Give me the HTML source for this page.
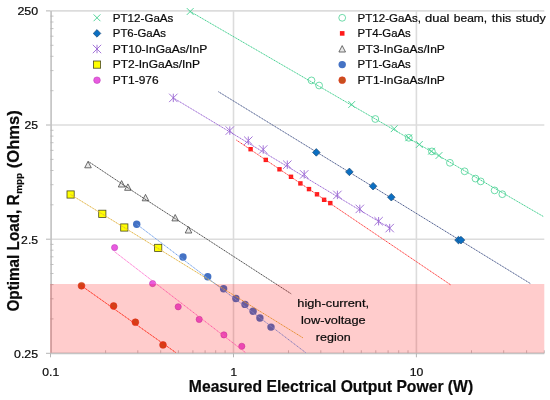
<!DOCTYPE html><html><head><meta charset="utf-8"><title>chart</title>
<style>html,body{margin:0;padding:0;background:#fff;}svg{display:block;}text{font-family:"Liberation Sans",sans-serif;fill:#0a0a0a;stroke:#0a0a0a;stroke-width:0.22px;}</style></head><body>
<svg width="550" height="400" viewBox="0 0 550 400">
<rect width="550" height="400" fill="#fff"/>
<line x1="50.5" x2="544.3" y1="10.9" y2="10.9" stroke="#dcdcdc" stroke-width="1.6"/>
<line x1="50.5" x2="544.3" y1="125.0" y2="125.0" stroke="#dcdcdc" stroke-width="1.6"/>
<line x1="50.5" x2="544.3" y1="239.2" y2="239.2" stroke="#dcdcdc" stroke-width="1.6"/>
<line x1="233.5" x2="233.5" y1="10.9" y2="353.3" stroke="#dcdcdc" stroke-width="1.6"/>
<line x1="416.4" x2="416.4" y1="10.9" y2="353.3" stroke="#dcdcdc" stroke-width="1.6"/>
<line x1="51.1" x2="51.1" y1="10.9" y2="354.1" stroke="#c4c4c4" stroke-width="1.7"/>
<line x1="50.5" x2="544.3" y1="353.3" y2="353.3" stroke="#c4c4c4" stroke-width="1.7"/>
<line x1="46.0" x2="50.5" y1="10.9" y2="10.9" stroke="#b4b4b4"/>
<line x1="50.5" x2="53.5" y1="90.7" y2="90.7" stroke="#b4b4b4" stroke-width="0.8"/>
<line x1="50.5" x2="53.5" y1="70.6" y2="70.6" stroke="#b4b4b4" stroke-width="0.8"/>
<line x1="50.5" x2="53.5" y1="56.3" y2="56.3" stroke="#b4b4b4" stroke-width="0.8"/>
<line x1="50.5" x2="53.5" y1="45.3" y2="45.3" stroke="#b4b4b4" stroke-width="0.8"/>
<line x1="50.5" x2="53.5" y1="36.2" y2="36.2" stroke="#b4b4b4" stroke-width="0.8"/>
<line x1="50.5" x2="53.5" y1="28.6" y2="28.6" stroke="#b4b4b4" stroke-width="0.8"/>
<line x1="50.5" x2="53.5" y1="22.0" y2="22.0" stroke="#b4b4b4" stroke-width="0.8"/>
<line x1="50.5" x2="53.5" y1="16.1" y2="16.1" stroke="#b4b4b4" stroke-width="0.8"/>
<line x1="46.0" x2="50.5" y1="125.0" y2="125.0" stroke="#b4b4b4"/>
<line x1="50.5" x2="53.5" y1="204.8" y2="204.8" stroke="#b4b4b4" stroke-width="0.8"/>
<line x1="50.5" x2="53.5" y1="184.7" y2="184.7" stroke="#b4b4b4" stroke-width="0.8"/>
<line x1="50.5" x2="53.5" y1="170.5" y2="170.5" stroke="#b4b4b4" stroke-width="0.8"/>
<line x1="50.5" x2="53.5" y1="159.4" y2="159.4" stroke="#b4b4b4" stroke-width="0.8"/>
<line x1="50.5" x2="53.5" y1="150.4" y2="150.4" stroke="#b4b4b4" stroke-width="0.8"/>
<line x1="50.5" x2="53.5" y1="142.7" y2="142.7" stroke="#b4b4b4" stroke-width="0.8"/>
<line x1="50.5" x2="53.5" y1="136.1" y2="136.1" stroke="#b4b4b4" stroke-width="0.8"/>
<line x1="50.5" x2="53.5" y1="130.3" y2="130.3" stroke="#b4b4b4" stroke-width="0.8"/>
<line x1="46.0" x2="50.5" y1="239.2" y2="239.2" stroke="#b4b4b4"/>
<line x1="50.5" x2="53.5" y1="318.9" y2="318.9" stroke="#b4b4b4" stroke-width="0.8"/>
<line x1="50.5" x2="53.5" y1="298.8" y2="298.8" stroke="#b4b4b4" stroke-width="0.8"/>
<line x1="50.5" x2="53.5" y1="284.6" y2="284.6" stroke="#b4b4b4" stroke-width="0.8"/>
<line x1="50.5" x2="53.5" y1="273.5" y2="273.5" stroke="#b4b4b4" stroke-width="0.8"/>
<line x1="50.5" x2="53.5" y1="264.5" y2="264.5" stroke="#b4b4b4" stroke-width="0.8"/>
<line x1="50.5" x2="53.5" y1="256.8" y2="256.8" stroke="#b4b4b4" stroke-width="0.8"/>
<line x1="50.5" x2="53.5" y1="250.2" y2="250.2" stroke="#b4b4b4" stroke-width="0.8"/>
<line x1="50.5" x2="53.5" y1="244.4" y2="244.4" stroke="#b4b4b4" stroke-width="0.8"/>
<line x1="46.0" x2="50.5" y1="353.3" y2="353.3" stroke="#b4b4b4"/>
<line x1="50.5" x2="50.5" y1="353.3" y2="357.3" stroke="#b4b4b4"/>
<line x1="105.6" x2="105.6" y1="350.3" y2="353.3" stroke="#b4b4b4" stroke-width="0.8"/>
<line x1="137.8" x2="137.8" y1="350.3" y2="353.3" stroke="#b4b4b4" stroke-width="0.8"/>
<line x1="160.7" x2="160.7" y1="350.3" y2="353.3" stroke="#b4b4b4" stroke-width="0.8"/>
<line x1="178.4" x2="178.4" y1="350.3" y2="353.3" stroke="#b4b4b4" stroke-width="0.8"/>
<line x1="192.9" x2="192.9" y1="350.3" y2="353.3" stroke="#b4b4b4" stroke-width="0.8"/>
<line x1="205.1" x2="205.1" y1="350.3" y2="353.3" stroke="#b4b4b4" stroke-width="0.8"/>
<line x1="215.7" x2="215.7" y1="350.3" y2="353.3" stroke="#b4b4b4" stroke-width="0.8"/>
<line x1="225.1" x2="225.1" y1="350.3" y2="353.3" stroke="#b4b4b4" stroke-width="0.8"/>
<line x1="233.5" x2="233.5" y1="353.3" y2="357.3" stroke="#b4b4b4"/>
<line x1="288.5" x2="288.5" y1="350.3" y2="353.3" stroke="#b4b4b4" stroke-width="0.8"/>
<line x1="320.8" x2="320.8" y1="350.3" y2="353.3" stroke="#b4b4b4" stroke-width="0.8"/>
<line x1="343.6" x2="343.6" y1="350.3" y2="353.3" stroke="#b4b4b4" stroke-width="0.8"/>
<line x1="361.3" x2="361.3" y1="350.3" y2="353.3" stroke="#b4b4b4" stroke-width="0.8"/>
<line x1="375.8" x2="375.8" y1="350.3" y2="353.3" stroke="#b4b4b4" stroke-width="0.8"/>
<line x1="388.1" x2="388.1" y1="350.3" y2="353.3" stroke="#b4b4b4" stroke-width="0.8"/>
<line x1="398.7" x2="398.7" y1="350.3" y2="353.3" stroke="#b4b4b4" stroke-width="0.8"/>
<line x1="408.0" x2="408.0" y1="350.3" y2="353.3" stroke="#b4b4b4" stroke-width="0.8"/>
<line x1="416.4" x2="416.4" y1="353.3" y2="357.3" stroke="#b4b4b4"/>
<line x1="471.5" x2="471.5" y1="350.3" y2="353.3" stroke="#b4b4b4" stroke-width="0.8"/>
<line x1="503.7" x2="503.7" y1="350.3" y2="353.3" stroke="#b4b4b4" stroke-width="0.8"/>
<line x1="526.6" x2="526.6" y1="350.3" y2="353.3" stroke="#b4b4b4" stroke-width="0.8"/>
<line x1="544.3" x2="544.3" y1="350.3" y2="353.3" stroke="#b4b4b4" stroke-width="0.8"/>
<line x1="218.4" y1="91.7" x2="530.5" y2="283.6" stroke="#4a5a8c" stroke-width="1" stroke-dasharray="1.3 0.6" opacity="1"/>
<path d="M186.8 8.1L193.6 14.9M186.8 14.9L193.6 8.1" stroke="#3fcf8e" stroke-width="0.9" fill="none"/>
<path d="M348.3 101.1L355.1 107.9M348.3 107.9L355.1 101.1" stroke="#3fcf8e" stroke-width="0.9" fill="none"/>
<path d="M390.8 125.3L397.6 132.1M390.8 132.1L397.6 125.3" stroke="#3fcf8e" stroke-width="0.9" fill="none"/>
<path d="M405.3 134.4L412.1 141.2M405.3 141.2L412.1 134.4" stroke="#3fcf8e" stroke-width="0.9" fill="none"/>
<path d="M415.9 141.1L422.7 147.9M415.9 147.9L422.7 141.1" stroke="#3fcf8e" stroke-width="0.9" fill="none"/>
<path d="M428.1 147.8L434.9 154.6M428.1 154.6L434.9 147.8" stroke="#3fcf8e" stroke-width="0.9" fill="none"/>
<path d="M435.6 152.1L442.4 158.9M435.6 158.9L442.4 152.1" stroke="#3fcf8e" stroke-width="0.9" fill="none"/>
<circle cx="311.5" cy="80.4" r="3.4" stroke="#3fcf8e" stroke-width="0.75" fill="none"/>
<circle cx="319.1" cy="85.5" r="3.4" stroke="#3fcf8e" stroke-width="0.75" fill="none"/>
<circle cx="375.3" cy="119" r="3.4" stroke="#3fcf8e" stroke-width="0.75" fill="none"/>
<circle cx="408.8" cy="137.8" r="3.4" stroke="#3fcf8e" stroke-width="0.75" fill="none"/>
<circle cx="431.9" cy="151.4" r="3.4" stroke="#3fcf8e" stroke-width="0.75" fill="none"/>
<circle cx="449.9" cy="162.8" r="3.4" stroke="#3fcf8e" stroke-width="0.75" fill="none"/>
<circle cx="464.6" cy="171.3" r="3.4" stroke="#3fcf8e" stroke-width="0.75" fill="none"/>
<circle cx="475.5" cy="178.6" r="3.4" stroke="#3fcf8e" stroke-width="0.75" fill="none"/>
<circle cx="480.7" cy="181.4" r="3.4" stroke="#3fcf8e" stroke-width="0.75" fill="none"/>
<circle cx="494.6" cy="190.4" r="3.4" stroke="#3fcf8e" stroke-width="0.75" fill="none"/>
<circle cx="502.3" cy="194.2" r="3.4" stroke="#3fcf8e" stroke-width="0.75" fill="none"/>
<path d="M316.3 148.6L320.1 152.4L316.3 156.20000000000002L312.5 152.4Z" fill="#0b6fc2" stroke="#1f4e79" stroke-width="0.7"/>
<path d="M349.4 168.1L353.2 171.9L349.4 175.70000000000002L345.59999999999997 171.9Z" fill="#0b6fc2" stroke="#1f4e79" stroke-width="0.7"/>
<path d="M373.1 182.39999999999998L376.90000000000003 186.2L373.1 190.0L369.3 186.2Z" fill="#0b6fc2" stroke="#1f4e79" stroke-width="0.7"/>
<path d="M391.3 193.39999999999998L395.1 197.2L391.3 201.0L387.5 197.2Z" fill="#0b6fc2" stroke="#1f4e79" stroke-width="0.7"/>
<path d="M458.5 236.29999999999998L462.3 240.1L458.5 243.9L454.7 240.1Z" fill="#0b6fc2" stroke="#1f4e79" stroke-width="0.7"/>
<path d="M461 236.29999999999998L464.8 240.1L461 243.9L457.2 240.1Z" fill="#0b6fc2" stroke="#1f4e79" stroke-width="0.7"/>
<path d="M169.1 93.7L177.5 102.1M169.1 102.1L177.5 93.7M173.3 93.7L173.3 102.1" stroke="#9a66d4" stroke-width="0.9" fill="none"/>
<path d="M225.6 126.4L234.0 134.8M225.6 134.8L234.0 126.4M229.8 126.4L229.8 134.8" stroke="#9a66d4" stroke-width="0.9" fill="none"/>
<path d="M244.1 136.5L252.5 144.9M244.1 144.9L252.5 136.5M248.3 136.5L248.3 144.9" stroke="#9a66d4" stroke-width="0.9" fill="none"/>
<path d="M259.0 145.3L267.4 153.7M259.0 153.7L267.4 145.3M263.2 145.3L263.2 153.7" stroke="#9a66d4" stroke-width="0.9" fill="none"/>
<path d="M283.1 160.5L291.5 168.9M283.1 168.9L291.5 160.5M287.3 160.5L287.3 168.9" stroke="#9a66d4" stroke-width="0.9" fill="none"/>
<path d="M300.0 170.2L308.4 178.6M300.0 178.6L308.4 170.2M304.2 170.2L304.2 178.6" stroke="#9a66d4" stroke-width="0.9" fill="none"/>
<path d="M333.2 190.7L341.6 199.1M333.2 199.1L341.6 190.7M337.4 190.7L337.4 199.1" stroke="#9a66d4" stroke-width="0.9" fill="none"/>
<path d="M355.6 204.7L364.0 213.1M355.6 213.1L364.0 204.7M359.8 204.7L359.8 213.1" stroke="#9a66d4" stroke-width="0.9" fill="none"/>
<path d="M374.4 217.0L382.8 225.4M374.4 225.4L382.8 217.0M378.6 217.0L378.6 225.4" stroke="#9a66d4" stroke-width="0.9" fill="none"/>
<path d="M385.5 223.9L393.9 232.3M385.5 232.3L393.9 223.9M389.7 223.9L389.7 232.3" stroke="#9a66d4" stroke-width="0.9" fill="none"/>
<rect x="248.4" y="147.0" width="4.4" height="4.4" fill="#ff1a1a"/>
<rect x="263.6" y="157.7" width="4.4" height="4.4" fill="#ff1a1a"/>
<rect x="277.3" y="167.1" width="4.4" height="4.4" fill="#ff1a1a"/>
<rect x="288.8" y="174.6" width="4.4" height="4.4" fill="#ff1a1a"/>
<rect x="298.2" y="181.2" width="4.4" height="4.4" fill="#ff1a1a"/>
<rect x="306.8" y="186.9" width="4.4" height="4.4" fill="#ff1a1a"/>
<rect x="314.8" y="192.1" width="4.4" height="4.4" fill="#ff1a1a"/>
<rect x="321.9" y="197.6" width="4.4" height="4.4" fill="#ff1a1a"/>
<rect x="328.1" y="200.9" width="4.4" height="4.4" fill="#ff1a1a"/>
<path d="M88 161.4L91.3 167.8L84.7 167.8Z" fill="#e8e8e8" stroke="#4a4a4a" stroke-width="0.8"/>
<path d="M121.6 180.6L124.9 187.0L118.3 187.0Z" fill="#e8e8e8" stroke="#4a4a4a" stroke-width="0.8"/>
<path d="M127.9 183.9L131.2 190.3L124.6 190.3Z" fill="#e8e8e8" stroke="#4a4a4a" stroke-width="0.8"/>
<path d="M145.5 194.4L148.8 200.8L142.2 200.8Z" fill="#e8e8e8" stroke="#4a4a4a" stroke-width="0.8"/>
<path d="M175.2 214.5L178.5 220.9L171.9 220.9Z" fill="#e8e8e8" stroke="#4a4a4a" stroke-width="0.8"/>
<path d="M188.5 226.6L191.8 233.0L185.2 233.0Z" fill="#e8e8e8" stroke="#4a4a4a" stroke-width="0.8"/>
<rect x="67.0" y="190.9" width="7.2" height="7.2" fill="#ffff00" stroke="#4a4a20" stroke-width="0.8"/>
<rect x="98.7" y="210.2" width="7.2" height="7.2" fill="#ffff00" stroke="#4a4a20" stroke-width="0.8"/>
<rect x="120.7" y="223.9" width="7.2" height="7.2" fill="#ffff00" stroke="#4a4a20" stroke-width="0.8"/>
<rect x="154.6" y="244.3" width="7.2" height="7.2" fill="#ffff00" stroke="#4a4a20" stroke-width="0.8"/>
<circle cx="136.7" cy="224.2" r="3.7" fill="#4472c4"/>
<circle cx="183" cy="257" r="3.7" fill="#4472c4"/>
<circle cx="207.7" cy="276.8" r="3.7" fill="#4472c4"/>
<circle cx="223.6" cy="288.8" r="3.7" fill="#4472c4"/>
<circle cx="235.9" cy="298.5" r="3.7" fill="#4472c4"/>
<circle cx="245" cy="304.4" r="3.7" fill="#4472c4"/>
<circle cx="253.1" cy="311.2" r="3.7" fill="#4472c4"/>
<circle cx="259.9" cy="318" r="3.7" fill="#4472c4"/>
<circle cx="271" cy="327.1" r="3.7" fill="#4472c4"/>
<circle cx="114.6" cy="247.6" r="3.1" fill="#e85be0" stroke="#c040b8" stroke-width="0.6"/>
<circle cx="152.6" cy="283.59999999999997" r="3.1" fill="#e85be0" stroke="#c040b8" stroke-width="0.6"/>
<circle cx="178.2" cy="306.79999999999995" r="3.1" fill="#e85be0" stroke="#c040b8" stroke-width="0.6"/>
<circle cx="199.2" cy="319.4" r="3.1" fill="#e85be0" stroke="#c040b8" stroke-width="0.6"/>
<circle cx="223.9" cy="334.9" r="3.1" fill="#e85be0" stroke="#c040b8" stroke-width="0.6"/>
<circle cx="241.8" cy="346.29999999999995" r="3.1" fill="#e85be0" stroke="#c040b8" stroke-width="0.6"/>
<circle cx="81.5" cy="285.8" r="3.4" fill="#c8501e" stroke="#e0381c" stroke-width="0.6"/>
<circle cx="113.6" cy="306" r="3.4" fill="#c8501e" stroke="#e0381c" stroke-width="0.6"/>
<circle cx="135.4" cy="322.2" r="3.4" fill="#c8501e" stroke="#e0381c" stroke-width="0.6"/>
<circle cx="163" cy="344.9" r="3.4" fill="#c8501e" stroke="#e0381c" stroke-width="0.6"/>
<line x1="190.2" y1="11.5" x2="543.7" y2="216.7" stroke="#3fcf8e" stroke-width="1" stroke-dasharray="1.3 0.6" opacity="1"/>
<line x1="173.3" y1="97.9" x2="389.7" y2="228.1" stroke="#9a66d4" stroke-width="1" stroke-dasharray="1.3 0.6" opacity="1"/>
<line x1="236.3" y1="140" x2="450.9" y2="285" stroke="#ff3b3b" stroke-width="1" stroke-dasharray="1.3 0.6" opacity="1"/>
<polyline points="88.4,161.6 91.9,163.8 135,192.6 180,221.7 291.3,293.9" fill="none" stroke="#4d4d4d" stroke-width="1" stroke-dasharray="1.4 0.6"/>
<line x1="70.6" y1="194.5" x2="302.9" y2="337.8" stroke="#e2b23c" stroke-width="1" stroke-dasharray="1.3 0.6" opacity="1"/>
<line x1="136.7" y1="224.2" x2="305.8" y2="352.7" stroke="#6d9eeb" stroke-width="1" stroke-dasharray="1.3 0.6" opacity="1"/>
<line x1="114.7" y1="251.8" x2="245.8" y2="352.8" stroke="#ff70d0" stroke-width="1" stroke-dasharray="1.3 0.6" opacity="1"/>
<line x1="81.5" y1="285.8" x2="176" y2="352.7" stroke="#ff2a12" stroke-width="1" stroke-dasharray="1.3 0.6" opacity="1"/>
<rect x="50.0" y="284" width="494.29999999999995" height="68.80000000000001" fill="rgb(255,0,0)" fill-opacity="0.2"/>
<text x="297.3" y="307.3" font-size="11.8" text-anchor="start" textLength="71.8" lengthAdjust="spacingAndGlyphs">high-current,</text>
<text x="301.0" y="324.3" font-size="11.8" text-anchor="start" textLength="64.6" lengthAdjust="spacingAndGlyphs">low-voltage</text>
<text x="315.8" y="341.1" font-size="11.8" text-anchor="start" textLength="34.8" lengthAdjust="spacingAndGlyphs">region</text>
<text x="17.400000000000002" y="15.3" font-size="11.8" text-anchor="start" textLength="20.7" lengthAdjust="spacingAndGlyphs">250</text>
<text x="24.5" y="129.4" font-size="11.8" text-anchor="start" textLength="13.6" lengthAdjust="spacingAndGlyphs">25</text>
<text x="21.1" y="243.6" font-size="11.8" text-anchor="start" textLength="17.0" lengthAdjust="spacingAndGlyphs">2.5</text>
<text x="14.100000000000001" y="357.7" font-size="11.8" text-anchor="start" textLength="24.0" lengthAdjust="spacingAndGlyphs">0.25</text>
<text x="50.7" y="376.0" font-size="11.8" text-anchor="middle" textLength="16.9" lengthAdjust="spacingAndGlyphs">0.1</text>
<text x="233.7" y="376.0" font-size="11.8" text-anchor="middle">1</text>
<text x="416.6" y="376.0" font-size="11.8" text-anchor="middle" textLength="13.6" lengthAdjust="spacingAndGlyphs">10</text>
<text x="331" y="392" font-size="16.7" font-weight="bold" text-anchor="middle" textLength="284.3" lengthAdjust="spacingAndGlyphs">Measured Electrical Output Power (W)</text>
<text transform="translate(18.5,311.6) rotate(-90)" font-size="16.6" font-weight="bold" textLength="117.2" lengthAdjust="spacingAndGlyphs">Optimal Load, R</text>
<text transform="translate(21.6,193.8) rotate(-90)" font-size="9.8" font-weight="bold" textLength="20.8" lengthAdjust="spacingAndGlyphs">mpp</text>
<text transform="translate(18.5,168.2) rotate(-90)" font-size="16.6" font-weight="bold" textLength="58" lengthAdjust="spacingAndGlyphs">(Ohms)</text>
<path d="M93.6 14.4L100.4 21.2M93.6 21.2L100.4 14.4" stroke="#3fcf8e" stroke-width="0.9" fill="none"/>
<text x="112.8" y="21.6" font-size="11.8" text-anchor="start" textLength="60.6" lengthAdjust="spacingAndGlyphs">PT12-GaAs</text>
<path d="M97 29.599999999999998L100.8 33.4L97 37.199999999999996L93.2 33.4Z" fill="#0b6fc2" stroke="#1f4e79" stroke-width="0.7"/>
<text x="112.8" y="37.2" font-size="11.8" text-anchor="start" textLength="53.2" lengthAdjust="spacingAndGlyphs">PT6-GaAs</text>
<path d="M92.8 44.8L101.2 53.2M92.8 53.2L101.2 44.8M97.0 44.8L97.0 53.2" stroke="#9a66d4" stroke-width="0.9" fill="none"/>
<text x="112.8" y="52.8" font-size="11.8" text-anchor="start" textLength="94.4" lengthAdjust="spacingAndGlyphs">PT10-InGaAs/InP</text>
<rect x="93.4" y="61.0" width="7.2" height="7.2" fill="#ffff00" stroke="#4a4a20" stroke-width="0.8"/>
<text x="112.8" y="68.4" font-size="11.8" text-anchor="start" textLength="87.2" lengthAdjust="spacingAndGlyphs">PT2-InGaAs/InP</text>
<circle cx="97" cy="80.2" r="3.3" fill="#e85be0" stroke="#c040b8" stroke-width="0.6"/>
<text x="112.8" y="84.0" font-size="11.8" text-anchor="start" textLength="45.8" lengthAdjust="spacingAndGlyphs">PT1-976</text>
<circle cx="342.2" cy="17.8" r="3.4" stroke="#3fcf8e" stroke-width="0.75" fill="none"/>
<rect x="339.9" y="31.1" width="4.6" height="4.6" fill="#ff1a1a"/>
<text x="357.6" y="37.2" font-size="11.8" text-anchor="start" textLength="53.2" lengthAdjust="spacingAndGlyphs">PT4-GaAs</text>
<path d="M342.2 45.6L345.5 52.0L338.9 52.0Z" fill="#e8e8e8" stroke="#4a4a4a" stroke-width="0.8"/>
<text x="357.6" y="52.8" font-size="11.8" text-anchor="start" textLength="87.2" lengthAdjust="spacingAndGlyphs">PT3-InGaAs/InP</text>
<circle cx="342.2" cy="64.6" r="3.7" fill="#4472c4"/>
<text x="357.6" y="68.4" font-size="11.8" text-anchor="start" textLength="53.2" lengthAdjust="spacingAndGlyphs">PT1-GaAs</text>
<circle cx="342.2" cy="80.2" r="3.4" fill="#c8501e" stroke="#e0381c" stroke-width="0.6"/>
<text x="357.6" y="84.0" font-size="11.8" text-anchor="start" textLength="87.2" lengthAdjust="spacingAndGlyphs">PT1-InGaAs/InP</text>
<text x="357.6" y="21.6" font-size="11.8" text-anchor="start" textLength="63.4" lengthAdjust="spacingAndGlyphs">PT12-GaAs,</text>
<text x="425.0" y="21.6" font-size="11.8" text-anchor="start" textLength="24.5" lengthAdjust="spacingAndGlyphs">dual</text>
<text x="453.8" y="21.6" font-size="11.8" text-anchor="start" textLength="33.4" lengthAdjust="spacingAndGlyphs">beam,</text>
<text x="491.8" y="21.6" font-size="11.8" text-anchor="start" textLength="19.4" lengthAdjust="spacingAndGlyphs">this</text>
<text x="515.8" y="21.6" font-size="11.8" text-anchor="start" textLength="30.0" lengthAdjust="spacingAndGlyphs">study</text>
</svg></body></html>
